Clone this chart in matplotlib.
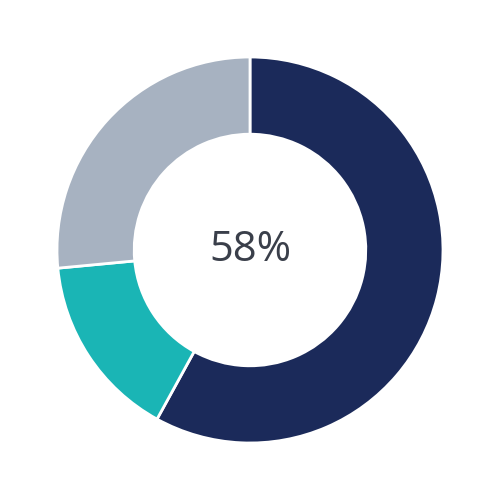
import matplotlib
matplotlib.use("Agg")
import matplotlib.pyplot as plt

labels = ["A", "B", "C"]
values = [58, 15.5, 26.5]
colors = ["#1b2a5a", "#1ab5b5", "#a7b2c1"]
center_label = "58%"

fig = plt.figure(figsize=(5, 5), dpi=100)
ax = fig.add_axes([0, 0, 1, 1])
ax.pie(values, colors=colors, startangle=90, counterclock=False,
       wedgeprops=dict(width=0.4, edgecolor="white", linewidth=2))
ax.text(0, 0, center_label, ha="center", va="center", fontsize=30,
        color="#3a3f4a", family="Open Sans")
lim = 250 / 193
ax.set_xlim(-lim, lim)
ax.set_ylim(-lim, lim)
ax.set_aspect("equal")
ax.axis("off")
fig.savefig("out.png", dpi=100, facecolor="white")
